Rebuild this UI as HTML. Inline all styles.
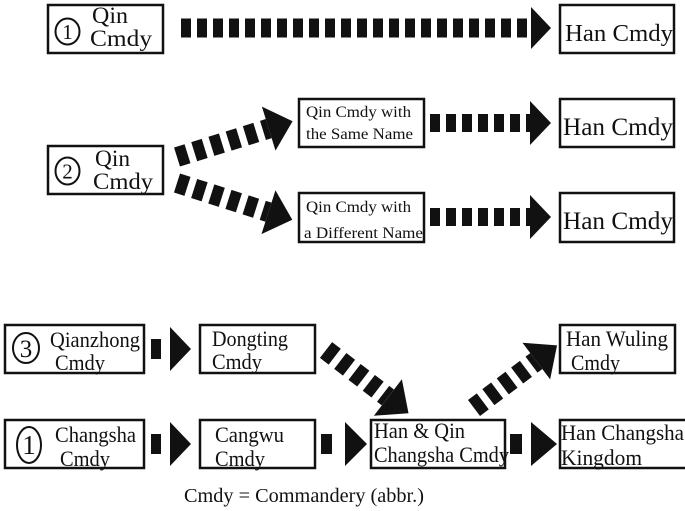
<!DOCTYPE html>
<html><head><meta charset="utf-8"><style>
html,body{margin:0;padding:0;background:#fff;}
svg{display:block}
text{font-family:"Liberation Serif",serif;fill:#111}
</style></head><body>
<svg width="685" height="511" viewBox="0 0 685 511" xmlns="http://www.w3.org/2000/svg">
<g fill="none" stroke="#111" stroke-width="2.5">
<rect x="48" y="5" width="115" height="48"/>
<rect x="560" y="5" width="114" height="48"/>
<rect x="48" y="146" width="115" height="48"/>
<rect x="299" y="99" width="125" height="48"/>
<rect x="560" y="99" width="114" height="48"/>
<rect x="299" y="193" width="125" height="49"/>
<rect x="560" y="193" width="114" height="49"/>
<rect x="5" y="325" width="139" height="48"/>
<rect x="200" y="325" width="115" height="48"/>
<rect x="560" y="325" width="115" height="48"/>
<rect x="5" y="420" width="139" height="48"/>
<rect x="200" y="420" width="115" height="48"/>
<rect x="371" y="420" width="134" height="48"/>
<rect x="560" y="420" width="130" height="48"/>
<ellipse cx="67.5" cy="31.5" rx="12" ry="13" stroke-width="2"/>
<ellipse cx="67.5" cy="171" rx="12" ry="13.5" stroke-width="2"/>
<ellipse cx="26" cy="348" rx="13" ry="15" stroke-width="2"/>
<ellipse cx="29" cy="445" rx="12" ry="18" stroke-width="2"/>
</g>
<g fill="#111">
<g transform="translate(181,28)"><line x1="0" y1="0" x2="350" y2="0" stroke="#111" stroke-width="19" stroke-dasharray="10 6"/><polygon points="350,-21 370,0 350,21"/></g>
<g transform="translate(430,123)"><line x1="0" y1="0" x2="100" y2="0" stroke="#111" stroke-width="18" stroke-dasharray="10 6"/><polygon points="100,-22 121,0 100,22"/></g>
<g transform="translate(430,217)"><line x1="0" y1="0" x2="100" y2="0" stroke="#111" stroke-width="18" stroke-dasharray="10 6"/><polygon points="100,-22 121,0 100,22"/></g>
<g transform="translate(177,157) rotate(-17.2)"><line x1="0" y1="0" x2="96" y2="0" stroke="#111" stroke-width="20" stroke-dasharray="11 7"/><polygon points="96,-23 121,0 96,23"/></g>
<g transform="translate(177,183) rotate(17.7)"><line x1="0" y1="0" x2="96" y2="0" stroke="#111" stroke-width="20" stroke-dasharray="11 7"/><polygon points="96,-23 121,0 96,23"/></g>
<g transform="translate(151,349)"><line x1="0" y1="0" x2="19" y2="0" stroke="#111" stroke-width="20" stroke-dasharray="10 9"/><polygon points="19,-22 40,0 19,22"/></g>
<g transform="translate(151,444)"><line x1="0" y1="0" x2="19" y2="0" stroke="#111" stroke-width="20" stroke-dasharray="10 9"/><polygon points="19,-22 40,0 19,22"/></g>
<g transform="translate(321,444)"><line x1="0" y1="0" x2="24" y2="0" stroke="#111" stroke-width="20" stroke-dasharray="11 13"/><polygon points="24,-22 46,0 24,22"/></g>
<g transform="translate(510,444)"><line x1="0" y1="0" x2="21" y2="0" stroke="#111" stroke-width="20" stroke-dasharray="12 9"/><polygon points="21,-22 47,0 21,22"/></g>
<g transform="translate(326,350) rotate(37.5)"><line x1="0" y1="0" x2="78" y2="0" stroke="#111" stroke-width="20" stroke-dasharray="11 7"/><polygon points="78,-23 104,0 78,23"/></g>
<g transform="translate(474,408) rotate(-37)"><line x1="0" y1="0" x2="78" y2="0" stroke="#111" stroke-width="20" stroke-dasharray="11 7"/><polygon points="78,-23 104,0 78,23"/></g>
</g>
<text x="67.5" y="39" font-size="21" text-anchor="middle">1</text>
<text x="67.5" y="178.5" font-size="21" text-anchor="middle">2</text>
<text x="26" y="357" font-size="25" text-anchor="middle">3</text>
<text x="29" y="454" font-size="27" text-anchor="middle">1</text>
<text x="92" y="23" font-size="23" textLength="36" lengthAdjust="spacingAndGlyphs">Qin</text>
<text x="90" y="46" font-size="23" textLength="62" lengthAdjust="spacingAndGlyphs">Cmdy</text>
<text x="95" y="166" font-size="23" textLength="35" lengthAdjust="spacingAndGlyphs">Qin</text>
<text x="93" y="189" font-size="23" textLength="60" lengthAdjust="spacingAndGlyphs">Cmdy</text>
<text x="565" y="41" font-size="24" textLength="108" lengthAdjust="spacingAndGlyphs">Han Cmdy</text>
<text x="563" y="135" font-size="25" textLength="110" lengthAdjust="spacingAndGlyphs">Han Cmdy</text>
<text x="563" y="229" font-size="25" textLength="110" lengthAdjust="spacingAndGlyphs">Han Cmdy</text>
<text x="306" y="117" font-size="16" textLength="105" lengthAdjust="spacingAndGlyphs">Qin Cmdy with</text>
<text x="306" y="139" font-size="16" textLength="107" lengthAdjust="spacingAndGlyphs">the Same Name</text>
<text x="306" y="212" font-size="16" textLength="105" lengthAdjust="spacingAndGlyphs">Qin Cmdy with</text>
<text x="304" y="238" font-size="16" textLength="119" lengthAdjust="spacingAndGlyphs">a Different Name</text>
<text x="50" y="347" font-size="22" textLength="90" lengthAdjust="spacingAndGlyphs">Qianzhong</text>
<text x="55" y="370" font-size="22" textLength="50" lengthAdjust="spacingAndGlyphs">Cmdy</text>
<text x="212" y="346" font-size="22" textLength="76" lengthAdjust="spacingAndGlyphs">Dongting</text>
<text x="212" y="369" font-size="22" textLength="50" lengthAdjust="spacingAndGlyphs">Cmdy</text>
<text x="566" y="346" font-size="22" textLength="102" lengthAdjust="spacingAndGlyphs">Han Wuling</text>
<text x="571" y="370" font-size="22" textLength="49" lengthAdjust="spacingAndGlyphs">Cmdy</text>
<text x="55" y="442" font-size="22" textLength="81" lengthAdjust="spacingAndGlyphs">Changsha</text>
<text x="60" y="466" font-size="22" textLength="50" lengthAdjust="spacingAndGlyphs">Cmdy</text>
<text x="215" y="442" font-size="22" textLength="69" lengthAdjust="spacingAndGlyphs">Cangwu</text>
<text x="215" y="466" font-size="22" textLength="50" lengthAdjust="spacingAndGlyphs">Cmdy</text>
<text x="374" y="438" font-size="22" textLength="91" lengthAdjust="spacingAndGlyphs">Han &amp; Qin</text>
<text x="374" y="462" font-size="22" textLength="135" lengthAdjust="spacingAndGlyphs">Changsha Cmdy</text>
<text x="561" y="440" font-size="22" textLength="123" lengthAdjust="spacingAndGlyphs">Han Changsha</text>
<text x="561" y="465" font-size="22" textLength="81" lengthAdjust="spacingAndGlyphs">Kingdom</text>
<text x="184" y="502" font-size="20" textLength="240" lengthAdjust="spacingAndGlyphs">Cmdy = Commandery (abbr.)</text>
</svg>
</body></html>
